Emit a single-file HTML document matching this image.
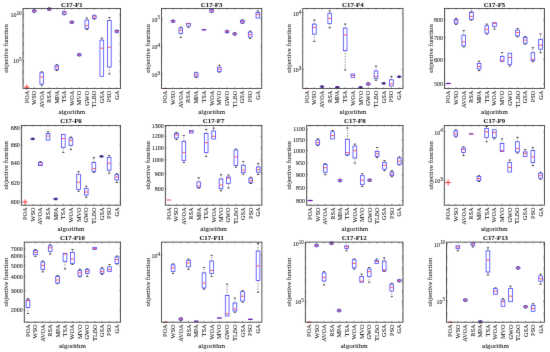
<!DOCTYPE html>
<html><head><meta charset="utf-8"><title>C17 boxplots</title>
<style>html,body{margin:0;padding:0;background:#fff}svg{display:block}text{font-family:"Liberation Serif",serif;fill:#1c1c1c;stroke:#1c1c1c;stroke-width:.08px}.t{font-weight:bold;font-size:6.8px;text-anchor:middle;fill:#111}.a{font-size:6.9px;text-anchor:middle}.o{font-size:6.7px;text-anchor:middle}.x{font-size:6.3px;text-anchor:end}.y{font-size:6px;text-anchor:end}.s{font-size:5.2px}.ax{fill:none;stroke:#2c2c2c;stroke-width:.8}.tk{stroke:#2c2c2c;stroke-width:.5}.mt{stroke:#363636;stroke-width:.4;opacity:.8}.md{stroke:#363636;stroke-width:.9;stroke-dasharray:.4 1.5;opacity:.7}.b{fill:#fff;stroke:#3a3aff;stroke-width:.75}.ws{stroke:#000;stroke-width:.55;opacity:.7}.m{stroke:#ff2020;stroke-width:.75}.w{stroke:#000;stroke-width:.65;stroke-dasharray:1.4 1.3;opacity:.7}.c{stroke:#000;stroke-width:.8;opacity:.9}.p{stroke:#ff2020;stroke-width:.85}</style></head><body>
<svg width="550" height="352" viewBox="0 0 550 352">
<defs><filter id="sf" x="0" y="0" width="550" height="352" filterUnits="userSpaceOnUse" color-interpolation-filters="sRGB"><feConvolveMatrix order="3" kernelMatrix="1 12 1 12 144 12 1 12 1" divisor="196" edgeMode="duplicate" preserveAlpha="false"/></filter></defs>
<g filter="url(#sf)">
<rect width="550" height="352" fill="#fff"/>
<g>
<text class="t" x="71.8" y="6.5">C17-F1</text>
<text class="a" x="71.8" y="114.2">algorithm</text>
<text class="o" transform="translate(8.1 48.5) rotate(-90)">objective function</text>
<path class="p" d="M24.25 87.1h5M26.75 84.6v5"/>
<path class="c" d="M33.16 9.7h2.2"/>
<path class="c" d="M33.16 12.3h2.2"/>
<rect class="b" x="32.41" y="10.2" width="3.7" height="1.6"/>
<path class="m" d="M32.71 11h3.1"/>
<path class="ws" d="M41.77 72.8V71.8"/>
<path class="c" d="M40.67 71.8h2.2"/>
<path class="ws" d="M41.77 84V85.3"/>
<path class="c" d="M40.67 85.3h2.2"/>
<rect class="b" x="39.92" y="72.8" width="3.7" height="11.2"/>
<path class="m" d="M40.22 77h3.1"/>
<path class="c" d="M48.18 7.8h2.2"/>
<path class="c" d="M48.18 10.4h2.2"/>
<rect class="b" x="47.43" y="8.3" width="3.7" height="1.6"/>
<path class="m" d="M47.73 9.1h3.1"/>
<path class="ws" d="M56.78 65.7V64.7"/>
<path class="c" d="M55.68 64.7h2.2"/>
<path class="ws" d="M56.78 69.5V70.5"/>
<path class="c" d="M55.68 70.5h2.2"/>
<rect class="b" x="54.93" y="65.7" width="3.7" height="3.8"/>
<path class="m" d="M55.23 67.2h3.1"/>
<path class="c" d="M63.19 11.3h2.2"/>
<path class="c" d="M63.19 14.8h2.2"/>
<rect class="b" x="62.44" y="11.8" width="3.7" height="2.5"/>
<path class="m" d="M62.74 13h3.1"/>
<path class="c" d="M70.7 21h2.2"/>
<path class="c" d="M70.7 23.6h2.2"/>
<rect class="b" x="69.95" y="21.5" width="3.7" height="1.6"/>
<path class="m" d="M70.25 22.3h3.1"/>
<path class="c" d="M78.21 53.4h2.2"/>
<path class="c" d="M78.21 56h2.2"/>
<rect class="b" x="77.46" y="53.9" width="3.7" height="1.6"/>
<path class="m" d="M77.76 54.7h3.1"/>
<path class="ws" d="M86.82 20.1V18"/>
<path class="c" d="M85.72 18h2.2"/>
<path class="ws" d="M86.82 28.6V29.6"/>
<path class="c" d="M85.72 29.6h2.2"/>
<rect class="b" x="84.97" y="20.1" width="3.7" height="8.5"/>
<path class="m" d="M85.27 25.8h3.1"/>
<path class="c" d="M93.22 15.2h2.2"/>
<path class="c" d="M93.22 19.2h2.2"/>
<rect class="b" x="92.47" y="15.8" width="3.7" height="2.8"/>
<path class="m" d="M92.77 17h3.1"/>
<path class="ws" d="M101.83 40.1V38.1"/>
<path class="c" d="M100.73 38.1h2.2"/>
<rect class="b" x="99.98" y="40.1" width="3.7" height="36.2"/>
<path class="m" d="M100.28 48.2h3.1"/>
<path class="ws" d="M109.34 20.6V17.6"/>
<path class="c" d="M108.24 17.6h2.2"/>
<path class="w" d="M109.34 67V74"/>
<path class="c" d="M108.24 74h2.2"/>
<rect class="b" x="107.49" y="20.6" width="3.7" height="46.4"/>
<path class="m" d="M107.79 47.2h3.1"/>
<path class="c" d="M115.75 30.1h2.2"/>
<path class="c" d="M115.75 32.7h2.2"/>
<rect class="b" x="115" y="30.6" width="3.7" height="1.6"/>
<path class="m" d="M115.3 31.4h3.1"/>
<rect class="ax" x="23" y="8.5" width="97.6" height="80"/>
<path class="tk" d="M26.75 88.5v-1.2M26.75 8.5v1.2M34.26 88.5v-1.2M34.26 8.5v1.2M41.77 88.5v-1.2M41.77 8.5v1.2M49.28 88.5v-1.2M49.28 8.5v1.2M56.78 88.5v-1.2M56.78 8.5v1.2M64.29 88.5v-1.2M64.29 8.5v1.2M71.8 88.5v-1.2M71.8 8.5v1.2M79.31 88.5v-1.2M79.31 8.5v1.2M86.82 88.5v-1.2M86.82 8.5v1.2M94.32 88.5v-1.2M94.32 8.5v1.2M101.83 88.5v-1.2M101.83 8.5v1.2M109.34 88.5v-1.2M109.34 8.5v1.2M116.85 88.5v-1.2M116.85 8.5v1.2M23 14h1.2M120.6 14h-1.2M23 60.4h1.2M120.6 60.4h-1.2"/>
<path class="mt" d="M23 11.21h.9M120.6 11.21h-.9M23 9.57h.9M120.6 9.57h-.9M23 20.49h.9M120.6 20.49h-.9M23 18.85h.9M120.6 18.85h-.9M23 17.69h.9M120.6 17.69h-.9M23 16.79h.9M120.6 16.79h-.9M23 16.06h.9M120.6 16.06h-.9M23 15.44h.9M120.6 15.44h-.9M23 14.9h.9M120.6 14.9h-.9M23 14.42h.9M120.6 14.42h-.9M23 29.77h.9M120.6 29.77h-.9M23 28.13h.9M120.6 28.13h-.9M23 26.97h.9M120.6 26.97h-.9M23 26.07h.9M120.6 26.07h-.9M23 25.34h.9M120.6 25.34h-.9M23 24.72h.9M120.6 24.72h-.9M23 24.18h.9M120.6 24.18h-.9M23 23.7h.9M120.6 23.7h-.9M23 39.05h.9M120.6 39.05h-.9M23 37.41h.9M120.6 37.41h-.9M23 36.25h.9M120.6 36.25h-.9M23 35.35h.9M120.6 35.35h-.9M23 34.62h.9M120.6 34.62h-.9M23 34h.9M120.6 34h-.9M23 33.46h.9M120.6 33.46h-.9M23 32.98h.9M120.6 32.98h-.9M23 48.33h.9M120.6 48.33h-.9M23 46.69h.9M120.6 46.69h-.9M23 45.53h.9M120.6 45.53h-.9M23 44.63h.9M120.6 44.63h-.9M23 43.9h.9M120.6 43.9h-.9M23 43.28h.9M120.6 43.28h-.9M23 42.74h.9M120.6 42.74h-.9M23 42.26h.9M120.6 42.26h-.9M23 57.61h.9M120.6 57.61h-.9M23 55.97h.9M120.6 55.97h-.9M23 54.81h.9M120.6 54.81h-.9M23 53.91h.9M120.6 53.91h-.9M23 53.18h.9M120.6 53.18h-.9M23 52.56h.9M120.6 52.56h-.9M23 52.02h.9M120.6 52.02h-.9M23 51.54h.9M120.6 51.54h-.9M23 66.89h.9M120.6 66.89h-.9M23 65.25h.9M120.6 65.25h-.9M23 64.09h.9M120.6 64.09h-.9M23 63.19h.9M120.6 63.19h-.9M23 62.46h.9M120.6 62.46h-.9M23 61.84h.9M120.6 61.84h-.9M23 61.3h.9M120.6 61.3h-.9M23 60.82h.9M120.6 60.82h-.9M23 76.17h.9M120.6 76.17h-.9M23 74.53h.9M120.6 74.53h-.9M23 73.37h.9M120.6 73.37h-.9M23 72.47h.9M120.6 72.47h-.9M23 71.74h.9M120.6 71.74h-.9M23 71.12h.9M120.6 71.12h-.9M23 70.58h.9M120.6 70.58h-.9M23 70.1h.9M120.6 70.1h-.9M23 85.45h.9M120.6 85.45h-.9M23 83.81h.9M120.6 83.81h-.9M23 82.65h.9M120.6 82.65h-.9M23 81.75h.9M120.6 81.75h-.9M23 81.02h.9M120.6 81.02h-.9M23 80.4h.9M120.6 80.4h-.9M23 79.86h.9M120.6 79.86h-.9M23 79.38h.9M120.6 79.38h-.9"/>
<text class="x" transform="translate(28.75 90.7) rotate(-90)">POA</text>
<text class="x" transform="translate(36.26 90.7) rotate(-90)">WSO</text>
<text class="x" transform="translate(43.77 90.7) rotate(-90)">AVOA</text>
<text class="x" transform="translate(51.28 90.7) rotate(-90)">RSA</text>
<text class="x" transform="translate(58.78 90.7) rotate(-90)">MPA</text>
<text class="x" transform="translate(66.29 90.7) rotate(-90)">TSA</text>
<text class="x" transform="translate(73.8 90.7) rotate(-90)">WOA</text>
<text class="x" transform="translate(81.31 90.7) rotate(-90)">MVO</text>
<text class="x" transform="translate(88.82 90.7) rotate(-90)">GWO</text>
<text class="x" transform="translate(96.32 90.7) rotate(-90)">TLBO</text>
<text class="x" transform="translate(103.83 90.7) rotate(-90)">GSA</text>
<text class="x" transform="translate(111.34 90.7) rotate(-90)">PSO</text>
<text class="x" transform="translate(118.85 90.7) rotate(-90)">GA</text>
<text class="y" x="21.6" y="17">10<tspan class="s" dy="-2.4">10</tspan></text>
<text class="y" x="21.6" y="63.4">10<tspan class="s" dy="-2.4">5</tspan></text>
</g>
<g>
<text class="t" x="211.62" y="6.5">C17-F3</text>
<text class="a" x="211.62" y="114.2">algorithm</text>
<text class="o" transform="translate(149.6 48.5) rotate(-90)">objective function</text>
<path d="M163.11 88.5h4.5" stroke="#ff2a2a" stroke-width=".9"/>
<path class="c" d="M171.97 20h2.2"/>
<path class="c" d="M171.97 22.6h2.2"/>
<rect class="b" x="171.22" y="20.5" width="3.7" height="1.6"/>
<path class="m" d="M171.52 21.3h3.1"/>
<path class="ws" d="M180.78 28.1V27.1"/>
<path class="c" d="M179.68 27.1h2.2"/>
<path class="w" d="M180.78 33.6V37.4"/>
<path class="c" d="M179.68 37.4h2.2"/>
<rect class="b" x="178.93" y="28.1" width="3.7" height="5.5"/>
<path class="m" d="M179.23 30.3h3.1"/>
<path class="ws" d="M188.49 26.1V27.3"/>
<path class="c" d="M187.39 27.3h2.2"/>
<rect class="b" x="186.64" y="23.3" width="3.7" height="2.8"/>
<path class="m" d="M186.94 23.8h3.1"/>
<path class="c" d="M195.1 72.3h2.2"/>
<path class="c" d="M195.1 77.4h2.2"/>
<rect class="b" x="194.35" y="72.9" width="3.7" height="3.9"/>
<path class="m" d="M194.65 75h3.1"/>
<path d="M201.66 29.8h4.5" stroke="#5a0fb4" stroke-width="1.3"/>
<path class="c" d="M210.53 9h2.2"/>
<path class="c" d="M210.53 12.5h2.2"/>
<rect class="b" x="209.78" y="9.5" width="3.7" height="2.5"/>
<path class="m" d="M210.08 10.8h3.1"/>
<path class="ws" d="M219.34 67.2V65.2"/>
<path class="c" d="M218.24 65.2h2.2"/>
<path class="ws" d="M219.34 71.5V72.2"/>
<path class="c" d="M218.24 72.2h2.2"/>
<rect class="b" x="217.49" y="67.2" width="3.7" height="4.3"/>
<path class="m" d="M217.79 69.2h3.1"/>
<path class="c" d="M225.95 30.3h2.2"/>
<path class="c" d="M225.95 32.9h2.2"/>
<rect class="b" x="225.2" y="30.8" width="3.7" height="1.6"/>
<path class="m" d="M225.5 31.6h3.1"/>
<path class="c" d="M233.66 32.6h2.2"/>
<path class="c" d="M233.66 35.2h2.2"/>
<rect class="b" x="232.91" y="33.1" width="3.7" height="1.6"/>
<path class="m" d="M233.21 33.9h3.1"/>
<path class="c" d="M241.37 19.8h2.2"/>
<path class="c" d="M241.37 23.4h2.2"/>
<rect class="b" x="240.62" y="20.3" width="3.7" height="2.6"/>
<path class="m" d="M240.92 21.6h3.1"/>
<path class="ws" d="M250.18 32.1V31.1"/>
<path class="c" d="M249.08 31.1h2.2"/>
<path class="ws" d="M250.18 37.1V38.6"/>
<path class="c" d="M249.08 38.6h2.2"/>
<rect class="b" x="248.33" y="32.1" width="3.7" height="5"/>
<path class="m" d="M248.63 34.6h3.1"/>
<path class="ws" d="M257.89 12.5V11"/>
<path class="c" d="M256.79 11h2.2"/>
<rect class="b" x="256.04" y="12.5" width="3.7" height="5.5"/>
<path class="m" d="M256.34 14.5h3.1"/>
<rect class="ax" x="161.5" y="8.5" width="100.25" height="80"/>
<path class="tk" d="M165.36 88.5v-1.2M165.36 8.5v1.2M173.07 88.5v-1.2M173.07 8.5v1.2M180.78 88.5v-1.2M180.78 8.5v1.2M188.49 88.5v-1.2M188.49 8.5v1.2M196.2 88.5v-1.2M196.2 8.5v1.2M203.91 88.5v-1.2M203.91 8.5v1.2M211.62 88.5v-1.2M211.62 8.5v1.2M219.34 88.5v-1.2M219.34 8.5v1.2M227.05 88.5v-1.2M227.05 8.5v1.2M234.76 88.5v-1.2M234.76 8.5v1.2M242.47 88.5v-1.2M242.47 8.5v1.2M250.18 88.5v-1.2M250.18 8.5v1.2M257.89 88.5v-1.2M257.89 8.5v1.2M161.5 18.8h1.2M261.75 18.8h-1.2M161.5 46.2h1.2M261.75 46.2h-1.2M161.5 74.1h1.2M261.75 74.1h-1.2"/>
<path class="mt" d="M161.5 10.48h.9M261.75 10.48h-.9M161.5 38.13h.9M261.75 38.13h-.9M161.5 33.26h.9M261.75 33.26h-.9M161.5 29.8h.9M261.75 29.8h-.9M161.5 27.12h.9M261.75 27.12h-.9M161.5 24.93h.9M261.75 24.93h-.9M161.5 23.08h.9M261.75 23.08h-.9M161.5 21.48h.9M261.75 21.48h-.9M161.5 20.07h.9M261.75 20.07h-.9M161.5 65.78h.9M261.75 65.78h-.9M161.5 60.91h.9M261.75 60.91h-.9M161.5 57.45h.9M261.75 57.45h-.9M161.5 54.77h.9M261.75 54.77h-.9M161.5 52.58h.9M261.75 52.58h-.9M161.5 50.73h.9M261.75 50.73h-.9M161.5 49.13h.9M261.75 49.13h-.9M161.5 47.72h.9M261.75 47.72h-.9M161.5 85.1h.9M261.75 85.1h-.9M161.5 82.42h.9M261.75 82.42h-.9M161.5 80.23h.9M261.75 80.23h-.9M161.5 78.38h.9M261.75 78.38h-.9M161.5 76.78h.9M261.75 76.78h-.9M161.5 75.37h.9M261.75 75.37h-.9"/>
<text class="x" transform="translate(167.36 90.7) rotate(-90)">POA</text>
<text class="x" transform="translate(175.07 90.7) rotate(-90)">WSO</text>
<text class="x" transform="translate(182.78 90.7) rotate(-90)">AVOA</text>
<text class="x" transform="translate(190.49 90.7) rotate(-90)">RSA</text>
<text class="x" transform="translate(198.2 90.7) rotate(-90)">MPA</text>
<text class="x" transform="translate(205.91 90.7) rotate(-90)">TSA</text>
<text class="x" transform="translate(213.62 90.7) rotate(-90)">WOA</text>
<text class="x" transform="translate(221.34 90.7) rotate(-90)">MVO</text>
<text class="x" transform="translate(229.05 90.7) rotate(-90)">GWO</text>
<text class="x" transform="translate(236.76 90.7) rotate(-90)">TLBO</text>
<text class="x" transform="translate(244.47 90.7) rotate(-90)">GSA</text>
<text class="x" transform="translate(252.18 90.7) rotate(-90)">PSO</text>
<text class="x" transform="translate(259.89 90.7) rotate(-90)">GA</text>
<text class="y" x="160.1" y="21.8">10<tspan class="s" dy="-2.4">5</tspan></text>
<text class="y" x="160.1" y="49.2">10<tspan class="s" dy="-2.4">4</tspan></text>
<text class="y" x="160.1" y="77.1">10<tspan class="s" dy="-2.4">3</tspan></text>
</g>
<g>
<text class="t" x="352.88" y="6.5">C17-F4</text>
<text class="a" x="352.88" y="114.2">algorithm</text>
<text class="o" transform="translate(290.9 48.5) rotate(-90)">objective function</text>
<path d="M304.36 88.5h4.5" stroke="#ff2a2a" stroke-width=".9"/>
<path class="w" d="M314.32 24.1V20"/>
<path class="c" d="M313.22 20h2.2"/>
<path class="w" d="M314.32 34.1V41.4"/>
<path class="c" d="M313.22 41.4h2.2"/>
<rect class="b" x="312.47" y="24.1" width="3.7" height="10"/>
<path class="m" d="M312.77 27.3h3.1"/>
<rect class="b" x="320.18" y="86.2" width="3.7" height=".8"/>
<path d="M320.58 86.6h2.9" stroke="#b01a70" stroke-width=".8"/>
<path class="c" d="M320.93 85.8h2.2M320.93 87.4h2.2"/>
<path class="ws" d="M329.74 13.3V11"/>
<path class="c" d="M328.64 11h2.2"/>
<path class="w" d="M329.74 23.6V27.8"/>
<path class="c" d="M328.64 27.8h2.2"/>
<rect class="b" x="327.89" y="13.3" width="3.7" height="10.3"/>
<path class="m" d="M328.19 18.3h3.1"/>
<rect class="b" x="335.6" y="86.9" width="3.7" height=".8"/>
<path d="M336 87.3h2.9" stroke="#b01a70" stroke-width=".8"/>
<path class="c" d="M336.35 86.5h2.2M336.35 88.1h2.2"/>
<path class="w" d="M345.16 28.1V24"/>
<path class="c" d="M344.06 24h2.2"/>
<path class="w" d="M345.16 50.7V70"/>
<path class="c" d="M344.06 70h2.2"/>
<rect class="b" x="343.31" y="28.1" width="3.7" height="22.6"/>
<path class="m" d="M343.61 34.9h3.1"/>
<rect class="b" x="351.02" y="74" width="3.7" height="3.3"/>
<path class="m" d="M351.32 75.5h3.1"/>
<rect class="b" x="358.74" y="87" width="3.7" height=".8"/>
<path d="M359.14 87.4h2.9" stroke="#b01a70" stroke-width=".8"/>
<path class="c" d="M359.49 86.6h2.2M359.49 88.2h2.2"/>
<path class="c" d="M367.2 82.7h2.2"/>
<path class="c" d="M367.2 85.3h2.2"/>
<rect class="b" x="366.45" y="83.2" width="3.7" height="1.6"/>
<path class="m" d="M366.75 84h3.1"/>
<path class="w" d="M376.01 71V66"/>
<path class="c" d="M374.91 66h2.2"/>
<path class="ws" d="M376.01 78.5V80.3"/>
<path class="c" d="M374.91 80.3h2.2"/>
<rect class="b" x="374.16" y="71" width="3.7" height="7.5"/>
<path class="m" d="M374.46 76.5h3.1"/>
<rect class="b" x="381.87" y="83" width="3.7" height=".8"/>
<path d="M382.27 83.4h2.9" stroke="#b01a70" stroke-width=".8"/>
<path class="c" d="M382.62 82.6h2.2M382.62 84.2h2.2"/>
<path class="ws" d="M391.43 79.8V76.5"/>
<path class="c" d="M390.33 76.5h2.2"/>
<rect class="b" x="389.58" y="79.8" width="3.7" height="6.2"/>
<path class="m" d="M389.88 83.8h3.1"/>
<rect class="b" x="397.29" y="76.3" width="3.7" height=".8"/>
<path d="M397.69 76.7h2.9" stroke="#b01a70" stroke-width=".8"/>
<path class="c" d="M398.04 75.9h2.2M398.04 77.5h2.2"/>
<rect class="ax" x="302.75" y="8.5" width="100.25" height="80"/>
<path class="tk" d="M306.61 88.5v-1.2M306.61 8.5v1.2M314.32 88.5v-1.2M314.32 8.5v1.2M322.03 88.5v-1.2M322.03 8.5v1.2M329.74 88.5v-1.2M329.74 8.5v1.2M337.45 88.5v-1.2M337.45 8.5v1.2M345.16 88.5v-1.2M345.16 8.5v1.2M352.88 88.5v-1.2M352.88 8.5v1.2M360.59 88.5v-1.2M360.59 8.5v1.2M368.3 88.5v-1.2M368.3 8.5v1.2M376.01 88.5v-1.2M376.01 8.5v1.2M383.72 88.5v-1.2M383.72 8.5v1.2M391.43 88.5v-1.2M391.43 8.5v1.2M399.14 88.5v-1.2M399.14 8.5v1.2M302.75 13.1h1.2M403 13.1h-1.2M302.75 69.4h1.2M403 69.4h-1.2"/>
<path class="mt" d="M302.75 52.45h.9M403 52.45h-.9M302.75 42.54h.9M403 42.54h-.9M302.75 35.5h.9M403 35.5h-.9M302.75 30.05h.9M403 30.05h-.9M302.75 25.59h.9M403 25.59h-.9M302.75 21.82h.9M403 21.82h-.9M302.75 18.56h.9M403 18.56h-.9M302.75 15.68h.9M403 15.68h-.9M302.75 86.35h.9M403 86.35h-.9M302.75 81.89h.9M403 81.89h-.9M302.75 78.12h.9M403 78.12h-.9M302.75 74.86h.9M403 74.86h-.9M302.75 71.98h.9M403 71.98h-.9"/>
<text class="x" transform="translate(308.61 90.7) rotate(-90)">POA</text>
<text class="x" transform="translate(316.32 90.7) rotate(-90)">WSO</text>
<text class="x" transform="translate(324.03 90.7) rotate(-90)">AVOA</text>
<text class="x" transform="translate(331.74 90.7) rotate(-90)">RSA</text>
<text class="x" transform="translate(339.45 90.7) rotate(-90)">MPA</text>
<text class="x" transform="translate(347.16 90.7) rotate(-90)">TSA</text>
<text class="x" transform="translate(354.88 90.7) rotate(-90)">WOA</text>
<text class="x" transform="translate(362.59 90.7) rotate(-90)">MVO</text>
<text class="x" transform="translate(370.3 90.7) rotate(-90)">GWO</text>
<text class="x" transform="translate(378.01 90.7) rotate(-90)">TLBO</text>
<text class="x" transform="translate(385.72 90.7) rotate(-90)">GSA</text>
<text class="x" transform="translate(393.43 90.7) rotate(-90)">PSO</text>
<text class="x" transform="translate(401.14 90.7) rotate(-90)">GA</text>
<text class="y" x="301.35" y="16.1">10<tspan class="s" dy="-2.4">4</tspan></text>
<text class="y" x="301.35" y="72.4">10<tspan class="s" dy="-2.4">3</tspan></text>
</g>
<g>
<text class="t" x="494.48" y="6.5">C17-F5</text>
<text class="a" x="494.48" y="114.2">algorithm</text>
<text class="o" transform="translate(432.5 48.5) rotate(-90)">objective function</text>
<path d="M446.14 83.5h4.5" stroke="#5a0fb4" stroke-width="1.3"/>
<path class="ws" d="M456.07 19.6V18.3"/>
<path class="c" d="M454.97 18.3h2.2"/>
<path class="ws" d="M456.07 23.3V24.6"/>
<path class="c" d="M454.97 24.6h2.2"/>
<rect class="b" x="454.22" y="19.6" width="3.7" height="3.7"/>
<path class="m" d="M454.52 21.3h3.1"/>
<path class="w" d="M463.75 35.1V30.6"/>
<path class="c" d="M462.65 30.6h2.2"/>
<path class="ws" d="M463.75 45.9V46.9"/>
<path class="c" d="M462.65 46.9h2.2"/>
<rect class="b" x="461.9" y="35.1" width="3.7" height="10.8"/>
<path class="m" d="M462.2 41.9h3.1"/>
<path class="ws" d="M471.43 12.6V11.3"/>
<path class="c" d="M470.33 11.3h2.2"/>
<path class="ws" d="M471.43 19.3V20.2"/>
<path class="c" d="M470.33 20.2h2.2"/>
<rect class="b" x="469.58" y="12.6" width="3.7" height="6.7"/>
<path class="m" d="M469.88 16.4h3.1"/>
<path class="ws" d="M479.11 63.5V61.2"/>
<path class="c" d="M478.01 61.2h2.2"/>
<path class="ws" d="M479.11 69V70.7"/>
<path class="c" d="M478.01 70.7h2.2"/>
<rect class="b" x="477.26" y="63.5" width="3.7" height="5.5"/>
<path class="m" d="M477.56 66.5h3.1"/>
<path class="ws" d="M486.79 25.8V24.1"/>
<path class="c" d="M485.69 24.1h2.2"/>
<path class="ws" d="M486.79 33.1V34.1"/>
<path class="c" d="M485.69 34.1h2.2"/>
<rect class="b" x="484.94" y="25.8" width="3.7" height="7.3"/>
<path class="m" d="M485.24 29.4h3.1"/>
<path class="ws" d="M494.48 26.3V29.1"/>
<path class="c" d="M493.38 29.1h2.2"/>
<rect class="b" x="492.62" y="22.8" width="3.7" height="3.5"/>
<path class="m" d="M492.93 23.3h3.1"/>
<path class="w" d="M502.16 56.4V52.4"/>
<path class="c" d="M501.06 52.4h2.2"/>
<rect class="b" x="500.31" y="56.4" width="3.7" height="5.1"/>
<path class="m" d="M500.61 60.2h3.1"/>
<path class="ws" d="M509.84 64.5V66"/>
<path class="c" d="M508.74 66h2.2"/>
<rect class="b" x="507.99" y="53.2" width="3.7" height="11.3"/>
<path class="m" d="M508.29 57.5h3.1"/>
<path class="ws" d="M517.52 30.1V28.6"/>
<path class="c" d="M516.42 28.6h2.2"/>
<path class="ws" d="M517.52 35.9V36.9"/>
<path class="c" d="M516.42 36.9h2.2"/>
<rect class="b" x="515.67" y="30.1" width="3.7" height="5.8"/>
<path class="m" d="M515.97 32.6h3.1"/>
<path class="ws" d="M525.2 37.6V36.4"/>
<path class="c" d="M524.1 36.4h2.2"/>
<path class="ws" d="M525.2 43.2V44.2"/>
<path class="c" d="M524.1 44.2h2.2"/>
<rect class="b" x="523.35" y="37.6" width="3.7" height="5.6"/>
<path class="m" d="M523.65 40.1h3.1"/>
<path class="w" d="M532.88 52.7V47.7"/>
<path class="c" d="M531.78 47.7h2.2"/>
<path class="ws" d="M532.88 60.7V61.7"/>
<path class="c" d="M531.78 61.7h2.2"/>
<rect class="b" x="531.03" y="52.7" width="3.7" height="8"/>
<path class="m" d="M531.33 59.2h3.1"/>
<path class="w" d="M540.56 39.4V33.9"/>
<path class="c" d="M539.46 33.9h2.2"/>
<path class="ws" d="M540.56 49.2V52.7"/>
<path class="c" d="M539.46 52.7h2.2"/>
<rect class="b" x="538.71" y="39.4" width="3.7" height="9.8"/>
<path class="m" d="M539.01 45.2h3.1"/>
<rect class="ax" x="444.55" y="8.5" width="99.85" height="80"/>
<path class="tk" d="M448.39 88.5v-1.2M448.39 8.5v1.2M456.07 88.5v-1.2M456.07 8.5v1.2M463.75 88.5v-1.2M463.75 8.5v1.2M471.43 88.5v-1.2M471.43 8.5v1.2M479.11 88.5v-1.2M479.11 8.5v1.2M486.79 88.5v-1.2M486.79 8.5v1.2M494.48 88.5v-1.2M494.48 8.5v1.2M502.16 88.5v-1.2M502.16 8.5v1.2M509.84 88.5v-1.2M509.84 8.5v1.2M517.52 88.5v-1.2M517.52 8.5v1.2M525.2 88.5v-1.2M525.2 8.5v1.2M532.88 88.5v-1.2M532.88 8.5v1.2M540.56 88.5v-1.2M540.56 8.5v1.2M444.55 19.7h1.2M544.4 19.7h-1.2M444.55 38.1h1.2M544.4 38.1h-1.2M444.55 59.5h1.2M544.4 59.5h-1.2M444.55 84h1.2M544.4 84h-1.2"/>
<path class="md" d="M445.15 9.5V88M543.8 9.5V88"/>
<text class="x" transform="translate(450.39 90.7) rotate(-90)">POA</text>
<text class="x" transform="translate(458.07 90.7) rotate(-90)">WSO</text>
<text class="x" transform="translate(465.75 90.7) rotate(-90)">AVOA</text>
<text class="x" transform="translate(473.43 90.7) rotate(-90)">RSA</text>
<text class="x" transform="translate(481.11 90.7) rotate(-90)">MPA</text>
<text class="x" transform="translate(488.79 90.7) rotate(-90)">TSA</text>
<text class="x" transform="translate(496.48 90.7) rotate(-90)">WOA</text>
<text class="x" transform="translate(504.16 90.7) rotate(-90)">MVO</text>
<text class="x" transform="translate(511.84 90.7) rotate(-90)">GWO</text>
<text class="x" transform="translate(519.52 90.7) rotate(-90)">TLBO</text>
<text class="x" transform="translate(527.2 90.7) rotate(-90)">GSA</text>
<text class="x" transform="translate(534.88 90.7) rotate(-90)">PSO</text>
<text class="x" transform="translate(542.56 90.7) rotate(-90)">GA</text>
<text class="y" x="442.95" y="21.7">800</text>
<text class="y" x="442.95" y="40.1">700</text>
<text class="y" x="442.95" y="61.5">600</text>
<text class="y" x="442.95" y="86">500</text>
</g>
<g>
<text class="t" x="70.95" y="123.45">C17-F6</text>
<text class="a" x="70.95" y="230.9">algorithm</text>
<text class="o" transform="translate(7.9 165.32) rotate(-90)">objective function</text>
<path class="p" d="M22.62 201.9h5M25.12 199.4v5"/>
<rect class="b" x="30.91" y="138.5" width="3.7" height=".8"/>
<path d="M31.31 138.9h2.9" stroke="#b01a70" stroke-width=".8"/>
<path class="c" d="M31.66 138.1h2.2M31.66 139.7h2.2"/>
<path class="ws" d="M40.4 162.4V161.4"/>
<path class="c" d="M39.3 161.4h2.2"/>
<rect class="b" x="38.55" y="162.4" width="3.7" height="3.3"/>
<path class="m" d="M38.85 164.7h3.1"/>
<path class="ws" d="M48.03 133.6V131.8"/>
<path class="c" d="M46.93 131.8h2.2"/>
<rect class="b" x="46.18" y="133.6" width="3.7" height="6.4"/>
<path class="m" d="M46.48 136h3.1"/>
<rect class="b" x="53.82" y="198.6" width="3.7" height=".8"/>
<path d="M54.22 199h2.9" stroke="#b01a70" stroke-width=".8"/>
<path class="c" d="M54.57 198.2h2.2M54.57 199.8h2.2"/>
<path class="w" d="M63.31 147.6V152.4"/>
<path class="c" d="M62.21 152.4h2.2"/>
<rect class="b" x="61.46" y="134.6" width="3.7" height="13"/>
<path class="m" d="M61.76 138.6h3.1"/>
<path class="ws" d="M70.95 138V137"/>
<path class="c" d="M69.85 137h2.2"/>
<path class="w" d="M70.95 145.3V149.4"/>
<path class="c" d="M69.85 149.4h2.2"/>
<rect class="b" x="69.1" y="138" width="3.7" height="7.3"/>
<path class="m" d="M69.4 140.3h3.1"/>
<path class="ws" d="M78.59 174.2V171.4"/>
<path class="c" d="M77.49 171.4h2.2"/>
<path class="ws" d="M78.59 189.5V191.3"/>
<path class="c" d="M77.49 191.3h2.2"/>
<rect class="b" x="76.74" y="174.2" width="3.7" height="15.3"/>
<path class="m" d="M77.04 182.2h3.1"/>
<path class="ws" d="M86.23 188.7V186.2"/>
<path class="c" d="M85.13 186.2h2.2"/>
<path class="ws" d="M86.23 195V197.3"/>
<path class="c" d="M85.13 197.3h2.2"/>
<rect class="b" x="84.38" y="188.7" width="3.7" height="6.3"/>
<path class="m" d="M84.68 192h3.1"/>
<path class="w" d="M93.87 162.4V157.6"/>
<path class="c" d="M92.77 157.6h2.2"/>
<path class="ws" d="M93.87 171.4V172.4"/>
<path class="c" d="M92.77 172.4h2.2"/>
<rect class="b" x="92.02" y="162.4" width="3.7" height="9"/>
<path class="m" d="M92.32 168.7h3.1"/>
<rect class="b" x="99.65" y="156" width="3.7" height=".8"/>
<path d="M100.05 156.4h2.9" stroke="#b01a70" stroke-width=".8"/>
<path class="c" d="M100.4 155.6h2.2M100.4 157.2h2.2"/>
<path class="ws" d="M109.14 157.4V155.6"/>
<path class="c" d="M108.04 155.6h2.2"/>
<path class="ws" d="M109.14 170.2V173.2"/>
<path class="c" d="M108.04 173.2h2.2"/>
<rect class="b" x="107.29" y="157.4" width="3.7" height="12.8"/>
<path class="m" d="M107.59 163.2h3.1"/>
<path class="ws" d="M116.78 174.7V173.7"/>
<path class="c" d="M115.68 173.7h2.2"/>
<path class="ws" d="M116.78 180V182.5"/>
<path class="c" d="M115.68 182.5h2.2"/>
<rect class="b" x="114.93" y="174.7" width="3.7" height="5.3"/>
<path class="m" d="M115.23 177h3.1"/>
<rect class="ax" x="21.3" y="125.45" width="99.3" height="79.75"/>
<path class="tk" d="M25.12 205.2v-1.2M25.12 125.45v1.2M32.76 205.2v-1.2M32.76 125.45v1.2M40.4 205.2v-1.2M40.4 125.45v1.2M48.03 205.2v-1.2M48.03 125.45v1.2M55.67 205.2v-1.2M55.67 125.45v1.2M63.31 205.2v-1.2M63.31 125.45v1.2M70.95 205.2v-1.2M70.95 125.45v1.2M78.59 205.2v-1.2M78.59 125.45v1.2M86.23 205.2v-1.2M86.23 125.45v1.2M93.87 205.2v-1.2M93.87 125.45v1.2M101.5 205.2v-1.2M101.5 125.45v1.2M109.14 205.2v-1.2M109.14 125.45v1.2M116.78 205.2v-1.2M116.78 125.45v1.2M21.3 127.5h1.2M120.6 127.5h-1.2M21.3 145h1.2M120.6 145h-1.2M21.3 163.4h1.2M120.6 163.4h-1.2M21.3 182.5h1.2M120.6 182.5h-1.2M21.3 201.9h1.2M120.6 201.9h-1.2"/>
<path class="md" d="M21.9 126.45V204.7M120 126.45V204.7"/>
<text class="x" transform="translate(27.12 207.4) rotate(-90)">POA</text>
<text class="x" transform="translate(34.76 207.4) rotate(-90)">WSO</text>
<text class="x" transform="translate(42.4 207.4) rotate(-90)">AVOA</text>
<text class="x" transform="translate(50.03 207.4) rotate(-90)">RSA</text>
<text class="x" transform="translate(57.67 207.4) rotate(-90)">MPA</text>
<text class="x" transform="translate(65.31 207.4) rotate(-90)">TSA</text>
<text class="x" transform="translate(72.95 207.4) rotate(-90)">WOA</text>
<text class="x" transform="translate(80.59 207.4) rotate(-90)">MVO</text>
<text class="x" transform="translate(88.23 207.4) rotate(-90)">GWO</text>
<text class="x" transform="translate(95.87 207.4) rotate(-90)">TLBO</text>
<text class="x" transform="translate(103.5 207.4) rotate(-90)">GSA</text>
<text class="x" transform="translate(111.14 207.4) rotate(-90)">PSO</text>
<text class="x" transform="translate(118.78 207.4) rotate(-90)">GA</text>
<text class="y" x="19.7" y="129.5">680</text>
<text class="y" x="19.7" y="147">660</text>
<text class="y" x="19.7" y="165.4">640</text>
<text class="y" x="19.7" y="184.5">620</text>
<text class="y" x="19.7" y="203.9">600</text>
</g>
<g>
<text class="t" x="213.6" y="123.45">C17-F7</text>
<text class="a" x="213.6" y="230.9">algorithm</text>
<text class="o" transform="translate(149.8 165.32) rotate(-90)">objective function</text>
<path d="M166.77 200h4.5" stroke="#ff2a2a" stroke-width=".9"/>
<path class="ws" d="M176.45 133.6V132.3"/>
<path class="c" d="M175.35 132.3h2.2"/>
<path class="ws" d="M176.45 138V139.6"/>
<path class="c" d="M175.35 139.6h2.2"/>
<rect class="b" x="174.6" y="133.6" width="3.7" height="4.4"/>
<path class="m" d="M174.9 135h3.1"/>
<path class="w" d="M183.88 141.3V135.6"/>
<path class="c" d="M182.78 135.6h2.2"/>
<path class="ws" d="M183.88 160.6V162.4"/>
<path class="c" d="M182.78 162.4h2.2"/>
<rect class="b" x="182.03" y="141.3" width="3.7" height="19.3"/>
<path class="m" d="M182.33 152.4h3.1"/>
<rect class="b" x="189.46" y="130.5" width="3.7" height="2.5"/>
<path class="m" d="M189.76 131.8h3.1"/>
<path class="w" d="M198.74 182V177.7"/>
<path class="c" d="M197.64 177.7h2.2"/>
<path class="c" d="M197.64 188.2h2.2"/>
<rect class="b" x="196.89" y="182" width="3.7" height="5.5"/>
<path class="m" d="M197.19 186h3.1"/>
<path class="w" d="M206.17 133.6V129.3"/>
<path class="c" d="M205.07 129.3h2.2"/>
<path class="w" d="M206.17 152.4V156.4"/>
<path class="c" d="M205.07 156.4h2.2"/>
<rect class="b" x="204.32" y="133.6" width="3.7" height="18.8"/>
<path class="m" d="M204.62 142.6h3.1"/>
<path class="ws" d="M213.6 131V128"/>
<path class="c" d="M212.5 128h2.2"/>
<rect class="b" x="211.75" y="131" width="3.7" height="8"/>
<path class="m" d="M212.05 136.3h3.1"/>
<path class="w" d="M221.03 179V174.7"/>
<path class="c" d="M219.93 174.7h2.2"/>
<path class="ws" d="M221.03 188.7V190.8"/>
<path class="c" d="M219.93 190.8h2.2"/>
<rect class="b" x="219.18" y="179" width="3.7" height="9.7"/>
<path class="m" d="M219.48 185h3.1"/>
<path class="ws" d="M228.46 177V175"/>
<path class="c" d="M227.36 175h2.2"/>
<path class="w" d="M228.46 183.5V188"/>
<path class="c" d="M227.36 188h2.2"/>
<rect class="b" x="226.61" y="177" width="3.7" height="6.5"/>
<path class="m" d="M226.91 178.2h3.1"/>
<path class="ws" d="M235.89 149.9V149.1"/>
<path class="c" d="M234.79 149.1h2.2"/>
<path class="ws" d="M235.89 165.4V167.2"/>
<path class="c" d="M234.79 167.2h2.2"/>
<rect class="b" x="234.04" y="149.9" width="3.7" height="15.5"/>
<path class="m" d="M234.34 156.9h3.1"/>
<path class="w" d="M243.32 165.2V161.4"/>
<path class="c" d="M242.22 161.4h2.2"/>
<path class="ws" d="M243.32 172.7V174.2"/>
<path class="c" d="M242.22 174.2h2.2"/>
<rect class="b" x="241.47" y="165.2" width="3.7" height="7.5"/>
<path class="m" d="M241.77 170h3.1"/>
<path class="ws" d="M250.75 178.2V177.2"/>
<path class="c" d="M249.65 177.2h2.2"/>
<path class="ws" d="M250.75 182.5V183.5"/>
<path class="c" d="M249.65 183.5h2.2"/>
<rect class="b" x="248.9" y="178.2" width="3.7" height="4.3"/>
<path class="m" d="M249.2 180.7h3.1"/>
<path class="ws" d="M258.18 167V163.4"/>
<path class="c" d="M257.08 163.4h2.2"/>
<path class="ws" d="M258.18 172.2V174.5"/>
<path class="c" d="M257.08 174.5h2.2"/>
<rect class="b" x="256.33" y="167" width="3.7" height="5.2"/>
<path class="m" d="M256.63 169.7h3.1"/>
<rect class="ax" x="165.3" y="125.45" width="96.6" height="79.75"/>
<path class="tk" d="M169.02 205.2v-1.2M169.02 125.45v1.2M176.45 205.2v-1.2M176.45 125.45v1.2M183.88 205.2v-1.2M183.88 125.45v1.2M191.31 205.2v-1.2M191.31 125.45v1.2M198.74 205.2v-1.2M198.74 125.45v1.2M206.17 205.2v-1.2M206.17 125.45v1.2M213.6 205.2v-1.2M213.6 125.45v1.2M221.03 205.2v-1.2M221.03 125.45v1.2M228.46 205.2v-1.2M228.46 125.45v1.2M235.89 205.2v-1.2M235.89 125.45v1.2M243.32 205.2v-1.2M243.32 125.45v1.2M250.75 205.2v-1.2M250.75 125.45v1.2M258.18 205.2v-1.2M258.18 125.45v1.2M165.3 126.3h1.2M261.9 126.3h-1.2M165.3 136.3h1.2M261.9 136.3h-1.2M165.3 148.1h1.2M261.9 148.1h-1.2M165.3 159.9h1.2M261.9 159.9h-1.2M165.3 173.6h1.2M261.9 173.6h-1.2M165.3 189h1.2M261.9 189h-1.2"/>
<path class="md" d="M165.9 126.45V204.7M261.3 126.45V204.7"/>
<text class="x" transform="translate(171.02 207.4) rotate(-90)">POA</text>
<text class="x" transform="translate(178.45 207.4) rotate(-90)">WSO</text>
<text class="x" transform="translate(185.88 207.4) rotate(-90)">AVOA</text>
<text class="x" transform="translate(193.31 207.4) rotate(-90)">RSA</text>
<text class="x" transform="translate(200.74 207.4) rotate(-90)">MPA</text>
<text class="x" transform="translate(208.17 207.4) rotate(-90)">TSA</text>
<text class="x" transform="translate(215.6 207.4) rotate(-90)">WOA</text>
<text class="x" transform="translate(223.03 207.4) rotate(-90)">MVO</text>
<text class="x" transform="translate(230.46 207.4) rotate(-90)">GWO</text>
<text class="x" transform="translate(237.89 207.4) rotate(-90)">TLBO</text>
<text class="x" transform="translate(245.32 207.4) rotate(-90)">GSA</text>
<text class="x" transform="translate(252.75 207.4) rotate(-90)">PSO</text>
<text class="x" transform="translate(260.18 207.4) rotate(-90)">GA</text>
<text class="y" x="163.7" y="128.3">1300</text>
<text class="y" x="163.7" y="138.3">1200</text>
<text class="y" x="163.7" y="150.1">1100</text>
<text class="y" x="163.7" y="161.9">1000</text>
<text class="y" x="163.7" y="175.6">900</text>
<text class="y" x="163.7" y="191">800</text>
</g>
<g>
<text class="t" x="354.85" y="123.45">C17-F8</text>
<text class="a" x="354.85" y="230.9">algorithm</text>
<text class="o" transform="translate(290.7 165.32) rotate(-90)">objective function</text>
<path d="M308.15 200.5h4.5" stroke="#5a0fb4" stroke-width="1.3"/>
<path class="ws" d="M317.81 140V138.8"/>
<path class="c" d="M316.71 138.8h2.2"/>
<path class="ws" d="M317.81 144.8V145.6"/>
<path class="c" d="M316.71 145.6h2.2"/>
<rect class="b" x="315.96" y="140" width="3.7" height="4.8"/>
<path class="m" d="M316.26 142.6h3.1"/>
<path class="ws" d="M325.22 164.4V163.4"/>
<path class="c" d="M324.12 163.4h2.2"/>
<path class="ws" d="M325.22 172.2V174.7"/>
<path class="c" d="M324.12 174.7h2.2"/>
<rect class="b" x="323.37" y="164.4" width="3.7" height="7.8"/>
<path class="m" d="M323.67 167.7h3.1"/>
<path class="ws" d="M332.63 131.8V130.5"/>
<path class="c" d="M331.53 130.5h2.2"/>
<rect class="b" x="330.78" y="131.8" width="3.7" height="7.2"/>
<path class="m" d="M331.08 135.6h3.1"/>
<path class="c" d="M338.93 179.2h2.2"/>
<path class="c" d="M338.93 181.8h2.2"/>
<rect class="b" x="338.18" y="179.7" width="3.7" height="1.6"/>
<path class="m" d="M338.48 180.5h3.1"/>
<path class="w" d="M347.44 139.3V128"/>
<path class="c" d="M346.34 128h2.2"/>
<path class="c" d="M346.34 155.6h2.2"/>
<rect class="b" x="345.59" y="139.3" width="3.7" height="15.6"/>
<path class="m" d="M345.89 152.6h3.1"/>
<path class="ws" d="M354.85 146V144.1"/>
<path class="c" d="M353.75 144.1h2.2"/>
<path class="w" d="M354.85 158V163.2"/>
<path class="c" d="M353.75 163.2h2.2"/>
<rect class="b" x="353" y="146" width="3.7" height="12"/>
<path class="m" d="M353.3 150.6h3.1"/>
<path class="ws" d="M362.26 175.7V173.7"/>
<path class="c" d="M361.16 173.7h2.2"/>
<path class="ws" d="M362.26 184.5V186.5"/>
<path class="c" d="M361.16 186.5h2.2"/>
<rect class="b" x="360.41" y="175.7" width="3.7" height="8.8"/>
<path class="m" d="M360.71 180.2h3.1"/>
<path class="c" d="M368.57 178.9h2.2"/>
<path class="c" d="M368.57 181.5h2.2"/>
<rect class="b" x="367.82" y="179.4" width="3.7" height="1.6"/>
<path class="m" d="M368.12 180.2h3.1"/>
<path class="w" d="M377.07 151.4V147.4"/>
<path class="c" d="M375.97 147.4h2.2"/>
<path class="ws" d="M377.07 156.4V157.6"/>
<path class="c" d="M375.97 157.6h2.2"/>
<rect class="b" x="375.22" y="151.4" width="3.7" height="5"/>
<path class="m" d="M375.52 153.9h3.1"/>
<path class="ws" d="M384.48 162.4V160.6"/>
<path class="c" d="M383.38 160.6h2.2"/>
<path class="ws" d="M384.48 169.2V170.7"/>
<path class="c" d="M383.38 170.7h2.2"/>
<rect class="b" x="382.63" y="162.4" width="3.7" height="6.8"/>
<path class="m" d="M382.93 165.2h3.1"/>
<path class="ws" d="M391.89 172V170.7"/>
<path class="c" d="M390.79 170.7h2.2"/>
<path class="ws" d="M391.89 175.7V176.7"/>
<path class="c" d="M390.79 176.7h2.2"/>
<rect class="b" x="390.04" y="172" width="3.7" height="3.7"/>
<path class="m" d="M390.34 174h3.1"/>
<path class="ws" d="M399.3 158V156.9"/>
<path class="c" d="M398.2 156.9h2.2"/>
<path class="ws" d="M399.3 164.2V164.9"/>
<path class="c" d="M398.2 164.9h2.2"/>
<rect class="b" x="397.45" y="158" width="3.7" height="6.2"/>
<path class="m" d="M397.75 161.2h3.1"/>
<rect class="ax" x="306.7" y="125.45" width="96.3" height="79.75"/>
<path class="tk" d="M310.4 205.2v-1.2M310.4 125.45v1.2M317.81 205.2v-1.2M317.81 125.45v1.2M325.22 205.2v-1.2M325.22 125.45v1.2M332.63 205.2v-1.2M332.63 125.45v1.2M340.03 205.2v-1.2M340.03 125.45v1.2M347.44 205.2v-1.2M347.44 125.45v1.2M354.85 205.2v-1.2M354.85 125.45v1.2M362.26 205.2v-1.2M362.26 125.45v1.2M369.67 205.2v-1.2M369.67 125.45v1.2M377.07 205.2v-1.2M377.07 125.45v1.2M384.48 205.2v-1.2M384.48 125.45v1.2M391.89 205.2v-1.2M391.89 125.45v1.2M399.3 205.2v-1.2M399.3 125.45v1.2M306.7 129.4h1.2M403 129.4h-1.2M306.7 139.8h1.2M403 139.8h-1.2M306.7 150.6h1.2M403 150.6h-1.2M306.7 162.7h1.2M403 162.7h-1.2M306.7 174.7h1.2M403 174.7h-1.2M306.7 187.5h1.2M403 187.5h-1.2M306.7 200.5h1.2M403 200.5h-1.2"/>
<path class="md" d="M307.3 126.45V204.7M402.4 126.45V204.7"/>
<text class="x" transform="translate(312.4 207.4) rotate(-90)">POA</text>
<text class="x" transform="translate(319.81 207.4) rotate(-90)">WSO</text>
<text class="x" transform="translate(327.22 207.4) rotate(-90)">AVOA</text>
<text class="x" transform="translate(334.63 207.4) rotate(-90)">RSA</text>
<text class="x" transform="translate(342.03 207.4) rotate(-90)">MPA</text>
<text class="x" transform="translate(349.44 207.4) rotate(-90)">TSA</text>
<text class="x" transform="translate(356.85 207.4) rotate(-90)">WOA</text>
<text class="x" transform="translate(364.26 207.4) rotate(-90)">MVO</text>
<text class="x" transform="translate(371.67 207.4) rotate(-90)">GWO</text>
<text class="x" transform="translate(379.07 207.4) rotate(-90)">TLBO</text>
<text class="x" transform="translate(386.48 207.4) rotate(-90)">GSA</text>
<text class="x" transform="translate(393.89 207.4) rotate(-90)">PSO</text>
<text class="x" transform="translate(401.3 207.4) rotate(-90)">GA</text>
<text class="y" x="305.1" y="131.4">1100</text>
<text class="y" x="305.1" y="141.8">1050</text>
<text class="y" x="305.1" y="152.6">1000</text>
<text class="y" x="305.1" y="164.7">950</text>
<text class="y" x="305.1" y="176.7">900</text>
<text class="y" x="305.1" y="189.5">850</text>
<text class="y" x="305.1" y="202.5">800</text>
</g>
<g>
<text class="t" x="494.32" y="123.45">C17-F9</text>
<text class="a" x="494.32" y="230.9">algorithm</text>
<text class="o" transform="translate(432.5 165.32) rotate(-90)">objective function</text>
<path class="p" d="M445.1 182.5h6M448.1 179.5v6"/>
<path class="ws" d="M455.81 131V129.8"/>
<path class="c" d="M454.71 129.8h2.2"/>
<path class="ws" d="M455.81 136V137"/>
<path class="c" d="M454.71 137h2.2"/>
<rect class="b" x="453.96" y="131" width="3.7" height="5"/>
<path class="m" d="M454.26 133.6h3.1"/>
<path class="ws" d="M463.51 148V146.9"/>
<path class="c" d="M462.41 146.9h2.2"/>
<path class="ws" d="M463.51 152.4V155.6"/>
<path class="c" d="M462.41 155.6h2.2"/>
<rect class="b" x="461.66" y="148" width="3.7" height="4.4"/>
<path class="m" d="M461.96 149.6h3.1"/>
<path d="M468.96 133.9h4.5" stroke="#8a1aa0" stroke-width="1.3"/>
<path class="ws" d="M478.92 176.5V175.7"/>
<path class="c" d="M477.82 175.7h2.2"/>
<path class="ws" d="M478.92 180.7V181.5"/>
<path class="c" d="M477.82 181.5h2.2"/>
<rect class="b" x="477.07" y="176.5" width="3.7" height="4.2"/>
<path class="m" d="M477.37 178.5h3.1"/>
<path class="ws" d="M486.62 128.5V126.5"/>
<path class="c" d="M485.52 126.5h2.2"/>
<path class="w" d="M486.62 137.6V141.8"/>
<path class="c" d="M485.52 141.8h2.2"/>
<rect class="b" x="484.77" y="128.5" width="3.7" height="9.1"/>
<path class="m" d="M485.07 131.8h3.1"/>
<path class="ws" d="M494.32 137.6V138.8"/>
<path class="c" d="M493.22 138.8h2.2"/>
<rect class="b" x="492.47" y="129.8" width="3.7" height="7.8"/>
<path class="m" d="M492.77 132.6h3.1"/>
<path class="w" d="M502.03 143.6V138.8"/>
<path class="c" d="M500.93 138.8h2.2"/>
<rect class="b" x="500.18" y="143.6" width="3.7" height="8"/>
<path class="m" d="M500.48 150.6h3.1"/>
<path class="ws" d="M509.73 162.4V160"/>
<path class="c" d="M508.63 160h2.2"/>
<rect class="b" x="507.88" y="162.4" width="3.7" height="9.6"/>
<path class="m" d="M508.18 167.4h3.1"/>
<path class="w" d="M517.44 141.8V137.3"/>
<path class="c" d="M516.34 137.3h2.2"/>
<path class="ws" d="M517.44 152V153.1"/>
<path class="c" d="M516.34 153.1h2.2"/>
<rect class="b" x="515.59" y="141.8" width="3.7" height="10.2"/>
<path class="m" d="M515.89 148.6h3.1"/>
<path class="ws" d="M525.14 151.9V149.4"/>
<path class="c" d="M524.04 149.4h2.2"/>
<rect class="b" x="523.29" y="151.9" width="3.7" height="4.5"/>
<path class="m" d="M523.59 153.6h3.1"/>
<path class="ws" d="M532.84 150.6V147.4"/>
<path class="c" d="M531.74 147.4h2.2"/>
<path class="ws" d="M532.84 162.4V165.7"/>
<path class="c" d="M531.74 165.7h2.2"/>
<rect class="b" x="530.99" y="150.6" width="3.7" height="11.8"/>
<path class="m" d="M531.29 156.9h3.1"/>
<path class="ws" d="M540.55 173.2V172.2"/>
<path class="c" d="M539.45 172.2h2.2"/>
<path class="ws" d="M540.55 178.2V179.2"/>
<path class="c" d="M539.45 179.2h2.2"/>
<rect class="b" x="538.7" y="173.2" width="3.7" height="5"/>
<path class="m" d="M539 175.7h3.1"/>
<rect class="ax" x="444.25" y="125.45" width="100.15" height="79.75"/>
<path class="tk" d="M448.1 205.2v-1.2M448.1 125.45v1.2M455.81 205.2v-1.2M455.81 125.45v1.2M463.51 205.2v-1.2M463.51 125.45v1.2M471.21 205.2v-1.2M471.21 125.45v1.2M478.92 205.2v-1.2M478.92 125.45v1.2M486.62 205.2v-1.2M486.62 125.45v1.2M494.32 205.2v-1.2M494.32 125.45v1.2M502.03 205.2v-1.2M502.03 125.45v1.2M509.73 205.2v-1.2M509.73 125.45v1.2M517.44 205.2v-1.2M517.44 125.45v1.2M525.14 205.2v-1.2M525.14 125.45v1.2M532.84 205.2v-1.2M532.84 125.45v1.2M540.55 205.2v-1.2M540.55 125.45v1.2M444.25 131.8h1.2M544.4 131.8h-1.2M444.25 179.9h1.2M544.4 179.9h-1.2"/>
<path class="mt" d="M444.25 165.42h.9M544.4 165.42h-.9M444.25 156.95h.9M544.4 156.95h-.9M444.25 150.94h.9M544.4 150.94h-.9M444.25 146.28h.9M544.4 146.28h-.9M444.25 142.47h.9M544.4 142.47h-.9M444.25 139.25h.9M544.4 139.25h-.9M444.25 136.46h.9M544.4 136.46h-.9M444.25 134h.9M544.4 134h-.9M444.25 199.04h.9M544.4 199.04h-.9M444.25 194.38h.9M544.4 194.38h-.9M444.25 190.57h.9M544.4 190.57h-.9M444.25 187.35h.9M544.4 187.35h-.9M444.25 184.56h.9M544.4 184.56h-.9M444.25 182.1h.9M544.4 182.1h-.9"/>
<text class="x" transform="translate(450.1 207.4) rotate(-90)">POA</text>
<text class="x" transform="translate(457.81 207.4) rotate(-90)">WSO</text>
<text class="x" transform="translate(465.51 207.4) rotate(-90)">AVOA</text>
<text class="x" transform="translate(473.21 207.4) rotate(-90)">RSA</text>
<text class="x" transform="translate(480.92 207.4) rotate(-90)">MPA</text>
<text class="x" transform="translate(488.62 207.4) rotate(-90)">TSA</text>
<text class="x" transform="translate(496.32 207.4) rotate(-90)">WOA</text>
<text class="x" transform="translate(504.03 207.4) rotate(-90)">MVO</text>
<text class="x" transform="translate(511.73 207.4) rotate(-90)">GWO</text>
<text class="x" transform="translate(519.44 207.4) rotate(-90)">TLBO</text>
<text class="x" transform="translate(527.14 207.4) rotate(-90)">GSA</text>
<text class="x" transform="translate(534.84 207.4) rotate(-90)">PSO</text>
<text class="x" transform="translate(542.55 207.4) rotate(-90)">GA</text>
<text class="y" x="442.85" y="134.8">10<tspan class="s" dy="-2.4">4</tspan></text>
<text class="y" x="442.85" y="182.9">10<tspan class="s" dy="-2.4">3</tspan></text>
</g>
<g>
<text class="t" x="72.42" y="240.1">C17-F10</text>
<text class="a" x="72.42" y="347.9">algorithm</text>
<text class="o" transform="translate(7.9 282.15) rotate(-90)">objective function</text>
<path class="ws" d="M27.96 300V298.7"/>
<path class="c" d="M26.86 298.7h2.2"/>
<path class="w" d="M27.96 307.5V313.5"/>
<path class="c" d="M26.86 313.5h2.2"/>
<rect class="b" x="26.11" y="300" width="3.7" height="7.5"/>
<path class="m" d="M26.41 300.7h3.1"/>
<path class="ws" d="M35.37 250.6V249.6"/>
<path class="c" d="M34.27 249.6h2.2"/>
<path class="ws" d="M35.37 254.8V256.6"/>
<path class="c" d="M34.27 256.6h2.2"/>
<rect class="b" x="33.52" y="250.6" width="3.7" height="4.2"/>
<path class="m" d="M33.82 252.3h3.1"/>
<path class="ws" d="M42.78 262V261.1"/>
<path class="c" d="M41.68 261.1h2.2"/>
<path class="ws" d="M42.78 269.4V271.9"/>
<path class="c" d="M41.68 271.9h2.2"/>
<rect class="b" x="40.93" y="262" width="3.7" height="7.4"/>
<path class="m" d="M41.23 265.4h3.1"/>
<path class="ws" d="M50.19 245.8V244.8"/>
<path class="c" d="M49.09 244.8h2.2"/>
<path class="ws" d="M50.19 251.6V254.1"/>
<path class="c" d="M49.09 254.1h2.2"/>
<rect class="b" x="48.34" y="245.8" width="3.7" height="5.8"/>
<path class="m" d="M48.64 247.8h3.1"/>
<path class="ws" d="M57.6 276.6V275.6"/>
<path class="c" d="M56.5 275.6h2.2"/>
<path class="c" d="M56.5 283.7h2.2"/>
<rect class="b" x="55.75" y="276.6" width="3.7" height="6.4"/>
<path class="m" d="M56.05 280h3.1"/>
<path class="w" d="M65.01 261.6V269"/>
<path class="c" d="M63.91 269h2.2"/>
<rect class="b" x="63.16" y="253.3" width="3.7" height="8.3"/>
<path class="m" d="M63.46 254h3.1"/>
<path class="ws" d="M72.42 252.6V249.6"/>
<path class="c" d="M71.33 249.6h2.2"/>
<path class="ws" d="M72.42 263.4V264.6"/>
<path class="c" d="M71.33 264.6h2.2"/>
<rect class="b" x="70.58" y="252.6" width="3.7" height="10.8"/>
<path class="m" d="M70.88 259h3.1"/>
<path class="ws" d="M79.84 270.4V269.1"/>
<path class="c" d="M78.74 269.1h2.2"/>
<path class="ws" d="M79.84 276V276.9"/>
<path class="c" d="M78.74 276.9h2.2"/>
<rect class="b" x="77.99" y="270.4" width="3.7" height="5.6"/>
<path class="m" d="M78.29 273h3.1"/>
<path class="ws" d="M87.25 269.6V268.9"/>
<path class="c" d="M86.15 268.9h2.2"/>
<path class="ws" d="M87.25 273.6V276.4"/>
<path class="c" d="M86.15 276.4h2.2"/>
<rect class="b" x="85.4" y="269.6" width="3.7" height="4"/>
<path class="m" d="M85.7 271.6h3.1"/>
<rect class="b" x="92.81" y="247.5" width="3.7" height="2"/>
<path class="m" d="M93.11 248.5h3.1"/>
<path class="ws" d="M102.07 268.9V267.4"/>
<path class="c" d="M100.97 267.4h2.2"/>
<path class="ws" d="M102.07 273.6V274.4"/>
<path class="c" d="M100.97 274.4h2.2"/>
<rect class="b" x="100.22" y="268.9" width="3.7" height="4.7"/>
<path class="m" d="M100.52 271.6h3.1"/>
<path class="ws" d="M109.48 266.9V264.6"/>
<path class="c" d="M108.38 264.6h2.2"/>
<rect class="b" x="107.63" y="266.9" width="3.7" height="4.5"/>
<path class="m" d="M107.93 269.6h3.1"/>
<path class="ws" d="M116.89 257V256"/>
<path class="c" d="M115.79 256h2.2"/>
<path class="ws" d="M116.89 263.4V264.1"/>
<path class="c" d="M115.79 264.1h2.2"/>
<rect class="b" x="115.04" y="257" width="3.7" height="6.4"/>
<path class="m" d="M115.34 259.6h3.1"/>
<rect class="ax" x="24.25" y="242.1" width="96.35" height="80.1"/>
<path class="tk" d="M27.96 322.2v-1.2M27.96 242.1v1.2M35.37 322.2v-1.2M35.37 242.1v1.2M42.78 322.2v-1.2M42.78 242.1v1.2M50.19 322.2v-1.2M50.19 242.1v1.2M57.6 322.2v-1.2M57.6 242.1v1.2M65.01 322.2v-1.2M65.01 242.1v1.2M72.42 322.2v-1.2M72.42 242.1v1.2M79.84 322.2v-1.2M79.84 242.1v1.2M87.25 322.2v-1.2M87.25 242.1v1.2M94.66 322.2v-1.2M94.66 242.1v1.2M102.07 322.2v-1.2M102.07 242.1v1.2M109.48 322.2v-1.2M109.48 242.1v1.2M116.89 322.2v-1.2M116.89 242.1v1.2M24.25 248.6h1.2M120.6 248.6h-1.2M24.25 256.3h1.2M120.6 256.3h-1.2M24.25 265.6h1.2M120.6 265.6h-1.2M24.25 276.6h1.2M120.6 276.6h-1.2M24.25 290.7h1.2M120.6 290.7h-1.2M24.25 310.3h1.2M120.6 310.3h-1.2"/>
<path class="md" d="M24.85 243.1V321.7M120 243.1V321.7"/>
<text class="x" transform="translate(29.96 324.4) rotate(-90)">POA</text>
<text class="x" transform="translate(37.37 324.4) rotate(-90)">WSO</text>
<text class="x" transform="translate(44.78 324.4) rotate(-90)">AVOA</text>
<text class="x" transform="translate(52.19 324.4) rotate(-90)">RSA</text>
<text class="x" transform="translate(59.6 324.4) rotate(-90)">MPA</text>
<text class="x" transform="translate(67.01 324.4) rotate(-90)">TSA</text>
<text class="x" transform="translate(74.42 324.4) rotate(-90)">WOA</text>
<text class="x" transform="translate(81.84 324.4) rotate(-90)">MVO</text>
<text class="x" transform="translate(89.25 324.4) rotate(-90)">GWO</text>
<text class="x" transform="translate(96.66 324.4) rotate(-90)">TLBO</text>
<text class="x" transform="translate(104.07 324.4) rotate(-90)">GSA</text>
<text class="x" transform="translate(111.48 324.4) rotate(-90)">PSO</text>
<text class="x" transform="translate(118.89 324.4) rotate(-90)">GA</text>
<text class="y" x="22.65" y="250.6">7000</text>
<text class="y" x="22.65" y="258.3">6000</text>
<text class="y" x="22.65" y="267.6">5000</text>
<text class="y" x="22.65" y="278.6">4000</text>
<text class="y" x="22.65" y="292.7">3000</text>
<text class="y" x="22.65" y="312.3">2000</text>
</g>
<g>
<text class="t" x="211.7" y="240.1">C17-F11</text>
<text class="a" x="211.7" y="347.9">algorithm</text>
<text class="o" transform="translate(149.7 282.15) rotate(-90)">objective function</text>
<path d="M163.11 322.2h4.5" stroke="#ff2a2a" stroke-width=".9"/>
<path class="ws" d="M173.08 264.9V263.9"/>
<path class="c" d="M171.98 263.9h2.2"/>
<path class="ws" d="M173.08 271.6V273.4"/>
<path class="c" d="M171.98 273.4h2.2"/>
<rect class="b" x="171.23" y="264.9" width="3.7" height="6.7"/>
<path class="m" d="M171.53 267.9h3.1"/>
<path class="c" d="M179.71 317.8h2.2"/>
<path class="c" d="M179.71 320.4h2.2"/>
<rect class="b" x="178.96" y="318.3" width="3.7" height="1.6"/>
<path class="m" d="M179.26 319.1h3.1"/>
<path class="ws" d="M188.53 260.3V259.1"/>
<path class="c" d="M187.43 259.1h2.2"/>
<path class="ws" d="M188.53 266.9V269.4"/>
<path class="c" d="M187.43 269.4h2.2"/>
<rect class="b" x="186.68" y="260.3" width="3.7" height="6.6"/>
<path class="m" d="M186.98 262.9h3.1"/>
<path d="M194 321.2h4.5" stroke="#5a0fb4" stroke-width="1.3"/>
<path class="w" d="M203.98 272.9V267.4"/>
<path class="c" d="M202.88 267.4h2.2"/>
<path class="ws" d="M203.98 288V289.2"/>
<path class="c" d="M202.88 289.2h2.2"/>
<rect class="b" x="202.13" y="272.9" width="3.7" height="15.1"/>
<path class="m" d="M202.43 283h3.1"/>
<path class="w" d="M211.7 261V255.3"/>
<path class="c" d="M210.6 255.3h2.2"/>
<path class="ws" d="M211.7 273.4V276.6"/>
<path class="c" d="M210.6 276.6h2.2"/>
<rect class="b" x="209.85" y="261" width="3.7" height="12.4"/>
<path class="m" d="M210.15 270.4h3.1"/>
<path d="M217.17 318h4.5" stroke="#5a0fb4" stroke-width="1.3"/>
<path class="w" d="M227.15 295.5V284.2"/>
<path class="c" d="M226.05 284.2h2.2"/>
<rect class="b" x="225.3" y="295.5" width="3.7" height="20.5"/>
<path class="m" d="M225.6 313.8h3.1"/>
<path class="w" d="M234.87 303V298"/>
<path class="c" d="M233.77 298h2.2"/>
<path class="ws" d="M234.87 311V312.3"/>
<path class="c" d="M233.77 312.3h2.2"/>
<rect class="b" x="233.02" y="303" width="3.7" height="8"/>
<path class="m" d="M233.32 308.8h3.1"/>
<path class="ws" d="M242.59 291.7V290.7"/>
<path class="c" d="M241.49 290.7h2.2"/>
<path class="ws" d="M242.59 301V302.2"/>
<path class="c" d="M241.49 302.2h2.2"/>
<rect class="b" x="240.74" y="291.7" width="3.7" height="9.3"/>
<path class="m" d="M241.04 296.2h3.1"/>
<path d="M248.07 319.3h4.5" stroke="#5a0fb4" stroke-width="1.3"/>
<path class="w" d="M258.04 251V243.5"/>
<path class="c" d="M256.94 243.5h2.2"/>
<path class="w" d="M258.04 280.4V292.2"/>
<path class="c" d="M256.94 292.2h2.2"/>
<rect class="b" x="256.19" y="251" width="3.7" height="29.4"/>
<path class="m" d="M256.49 266h3.1"/>
<rect class="ax" x="161.5" y="242.1" width="100.4" height="80.1"/>
<path class="tk" d="M165.36 322.2v-1.2M165.36 242.1v1.2M173.08 322.2v-1.2M173.08 242.1v1.2M180.81 322.2v-1.2M180.81 242.1v1.2M188.53 322.2v-1.2M188.53 242.1v1.2M196.25 322.2v-1.2M196.25 242.1v1.2M203.98 322.2v-1.2M203.98 242.1v1.2M211.7 322.2v-1.2M211.7 242.1v1.2M219.42 322.2v-1.2M219.42 242.1v1.2M227.15 322.2v-1.2M227.15 242.1v1.2M234.87 322.2v-1.2M234.87 242.1v1.2M242.59 322.2v-1.2M242.59 242.1v1.2M250.32 322.2v-1.2M250.32 242.1v1.2M258.04 322.2v-1.2M258.04 242.1v1.2M161.5 255.2h1.2M261.9 255.2h-1.2"/>
<path class="mt" d="M161.5 305.53h.9M261.9 305.53h-.9M161.5 292.85h.9M261.9 292.85h-.9M161.5 283.85h.9M261.9 283.85h-.9M161.5 276.87h.9M261.9 276.87h-.9M161.5 271.17h.9M261.9 271.17h-.9M161.5 266.35h.9M261.9 266.35h-.9M161.5 262.18h.9M261.9 262.18h-.9M161.5 258.49h.9M261.9 258.49h-.9"/>
<text class="x" transform="translate(167.36 324.4) rotate(-90)">POA</text>
<text class="x" transform="translate(175.08 324.4) rotate(-90)">WSO</text>
<text class="x" transform="translate(182.81 324.4) rotate(-90)">AVOA</text>
<text class="x" transform="translate(190.53 324.4) rotate(-90)">RSA</text>
<text class="x" transform="translate(198.25 324.4) rotate(-90)">MPA</text>
<text class="x" transform="translate(205.98 324.4) rotate(-90)">TSA</text>
<text class="x" transform="translate(213.7 324.4) rotate(-90)">WOA</text>
<text class="x" transform="translate(221.42 324.4) rotate(-90)">MVO</text>
<text class="x" transform="translate(229.15 324.4) rotate(-90)">GWO</text>
<text class="x" transform="translate(236.87 324.4) rotate(-90)">TLBO</text>
<text class="x" transform="translate(244.59 324.4) rotate(-90)">GSA</text>
<text class="x" transform="translate(252.32 324.4) rotate(-90)">PSO</text>
<text class="x" transform="translate(260.04 324.4) rotate(-90)">GA</text>
<text class="y" x="160.1" y="258.2">10<tspan class="s" dy="-2.4">4</tspan></text>
</g>
<g>
<text class="t" x="354.15" y="240.1">C17-F12</text>
<text class="a" x="354.15" y="347.9">algorithm</text>
<text class="o" transform="translate(290.5 282.15) rotate(-90)">objective function</text>
<path d="M306.81 322.2h4.5" stroke="#ff2a2a" stroke-width=".9"/>
<path class="c" d="M315.47 244.2h2.2"/>
<path class="c" d="M315.47 246.8h2.2"/>
<rect class="b" x="314.72" y="244.7" width="3.7" height="1.6"/>
<path class="m" d="M315.02 245.5h3.1"/>
<path class="ws" d="M324.09 272.9V271.6"/>
<path class="c" d="M322.99 271.6h2.2"/>
<path class="w" d="M324.09 281V285"/>
<path class="c" d="M322.99 285h2.2"/>
<rect class="b" x="322.24" y="272.9" width="3.7" height="8.1"/>
<path class="m" d="M322.54 277.4h3.1"/>
<path class="c" d="M330.5 242h2.2"/>
<path class="c" d="M330.5 244.6h2.2"/>
<rect class="b" x="329.75" y="242.5" width="3.7" height="1.6"/>
<path class="m" d="M330.05 243.3h3.1"/>
<path class="c" d="M338.02 309.2h2.2"/>
<path class="c" d="M338.02 311.8h2.2"/>
<rect class="b" x="337.27" y="309.7" width="3.7" height="1.6"/>
<path class="m" d="M337.57 310.5h3.1"/>
<path class="ws" d="M346.63 248.6V250.8"/>
<path class="c" d="M345.53 250.8h2.2"/>
<rect class="b" x="344.78" y="245.8" width="3.7" height="2.8"/>
<path class="m" d="M345.08 246.8h3.1"/>
<path class="ws" d="M354.15 259.8V259"/>
<path class="c" d="M353.05 259h2.2"/>
<path class="ws" d="M354.15 267.9V269.1"/>
<path class="c" d="M353.05 269.1h2.2"/>
<rect class="b" x="352.3" y="259.8" width="3.7" height="8.1"/>
<path class="m" d="M352.6 263.4h3.1"/>
<path class="ws" d="M361.67 276.6V274"/>
<path class="c" d="M360.57 274h2.2"/>
<rect class="b" x="359.82" y="276.6" width="3.7" height="5.6"/>
<path class="m" d="M360.12 281.2h3.1"/>
<path class="ws" d="M369.18 269V267.4"/>
<path class="c" d="M368.08 267.4h2.2"/>
<path class="w" d="M369.18 276.6V282.2"/>
<path class="c" d="M368.08 282.2h2.2"/>
<rect class="b" x="367.33" y="269" width="3.7" height="7.6"/>
<path class="m" d="M367.63 271.6h3.1"/>
<path class="ws" d="M376.7 260.3V259"/>
<path class="c" d="M375.6 259h2.2"/>
<rect class="b" x="374.85" y="260.3" width="3.7" height="3.3"/>
<path class="m" d="M375.15 261.6h3.1"/>
<path class="ws" d="M384.21 261V257.8"/>
<path class="c" d="M383.11 257.8h2.2"/>
<path class="ws" d="M384.21 270.9V271.6"/>
<path class="c" d="M383.11 271.6h2.2"/>
<rect class="b" x="382.36" y="261" width="3.7" height="9.9"/>
<path class="m" d="M382.66 269.9h3.1"/>
<path class="ws" d="M391.73 284.2V283.2"/>
<path class="c" d="M390.63 283.2h2.2"/>
<path class="w" d="M391.73 291V296.7"/>
<path class="c" d="M390.63 296.7h2.2"/>
<rect class="b" x="389.88" y="284.2" width="3.7" height="6.8"/>
<path class="m" d="M390.18 287.2h3.1"/>
<path class="c" d="M398.14 279.4h2.2"/>
<path class="c" d="M398.14 282h2.2"/>
<rect class="b" x="397.39" y="279.9" width="3.7" height="1.6"/>
<path class="m" d="M397.69 280.7h3.1"/>
<rect class="ax" x="305.3" y="242.1" width="97.7" height="80.1"/>
<path class="tk" d="M309.06 322.2v-1.2M309.06 242.1v1.2M316.57 322.2v-1.2M316.57 242.1v1.2M324.09 322.2v-1.2M324.09 242.1v1.2M331.6 322.2v-1.2M331.6 242.1v1.2M339.12 322.2v-1.2M339.12 242.1v1.2M346.63 322.2v-1.2M346.63 242.1v1.2M354.15 322.2v-1.2M354.15 242.1v1.2M361.67 322.2v-1.2M361.67 242.1v1.2M369.18 322.2v-1.2M369.18 242.1v1.2M376.7 322.2v-1.2M376.7 242.1v1.2M384.21 322.2v-1.2M384.21 242.1v1.2M391.73 322.2v-1.2M391.73 242.1v1.2M399.24 322.2v-1.2M399.24 242.1v1.2M305.3 243.2h1.2M403 243.2h-1.2M305.3 301h1.2M403 301h-1.2"/>
<path class="mt" d="M305.3 251.28h.9M403 251.28h-.9M305.3 249.24h.9M403 249.24h-.9M305.3 247.8h.9M403 247.8h-.9M305.3 246.68h.9M403 246.68h-.9M305.3 245.76h.9M403 245.76h-.9M305.3 244.99h.9M403 244.99h-.9M305.3 244.32h.9M403 244.32h-.9M305.3 243.73h.9M403 243.73h-.9M305.3 262.84h.9M403 262.84h-.9M305.3 260.8h.9M403 260.8h-.9M305.3 259.36h.9M403 259.36h-.9M305.3 258.24h.9M403 258.24h-.9M305.3 257.32h.9M403 257.32h-.9M305.3 256.55h.9M403 256.55h-.9M305.3 255.88h.9M403 255.88h-.9M305.3 255.29h.9M403 255.29h-.9M305.3 274.4h.9M403 274.4h-.9M305.3 272.36h.9M403 272.36h-.9M305.3 270.92h.9M403 270.92h-.9M305.3 269.8h.9M403 269.8h-.9M305.3 268.88h.9M403 268.88h-.9M305.3 268.11h.9M403 268.11h-.9M305.3 267.44h.9M403 267.44h-.9M305.3 266.85h.9M403 266.85h-.9M305.3 285.96h.9M403 285.96h-.9M305.3 283.92h.9M403 283.92h-.9M305.3 282.48h.9M403 282.48h-.9M305.3 281.36h.9M403 281.36h-.9M305.3 280.44h.9M403 280.44h-.9M305.3 279.67h.9M403 279.67h-.9M305.3 279h.9M403 279h-.9M305.3 278.41h.9M403 278.41h-.9M305.3 297.52h.9M403 297.52h-.9M305.3 295.48h.9M403 295.48h-.9M305.3 294.04h.9M403 294.04h-.9M305.3 292.92h.9M403 292.92h-.9M305.3 292h.9M403 292h-.9M305.3 291.23h.9M403 291.23h-.9M305.3 290.56h.9M403 290.56h-.9M305.3 289.97h.9M403 289.97h-.9M305.3 309.08h.9M403 309.08h-.9M305.3 307.04h.9M403 307.04h-.9M305.3 305.6h.9M403 305.6h-.9M305.3 304.48h.9M403 304.48h-.9M305.3 303.56h.9M403 303.56h-.9M305.3 302.79h.9M403 302.79h-.9M305.3 302.12h.9M403 302.12h-.9M305.3 301.53h.9M403 301.53h-.9M305.3 320.64h.9M403 320.64h-.9M305.3 318.6h.9M403 318.6h-.9M305.3 317.16h.9M403 317.16h-.9M305.3 316.04h.9M403 316.04h-.9M305.3 315.12h.9M403 315.12h-.9M305.3 314.35h.9M403 314.35h-.9M305.3 313.68h.9M403 313.68h-.9M305.3 313.09h.9M403 313.09h-.9"/>
<text class="x" transform="translate(311.06 324.4) rotate(-90)">POA</text>
<text class="x" transform="translate(318.57 324.4) rotate(-90)">WSO</text>
<text class="x" transform="translate(326.09 324.4) rotate(-90)">AVOA</text>
<text class="x" transform="translate(333.6 324.4) rotate(-90)">RSA</text>
<text class="x" transform="translate(341.12 324.4) rotate(-90)">MPA</text>
<text class="x" transform="translate(348.63 324.4) rotate(-90)">TSA</text>
<text class="x" transform="translate(356.15 324.4) rotate(-90)">WOA</text>
<text class="x" transform="translate(363.67 324.4) rotate(-90)">MVO</text>
<text class="x" transform="translate(371.18 324.4) rotate(-90)">GWO</text>
<text class="x" transform="translate(378.7 324.4) rotate(-90)">TLBO</text>
<text class="x" transform="translate(386.21 324.4) rotate(-90)">GSA</text>
<text class="x" transform="translate(393.73 324.4) rotate(-90)">PSO</text>
<text class="x" transform="translate(401.24 324.4) rotate(-90)">GA</text>
<text class="y" x="303.9" y="246.2">10<tspan class="s" dy="-2.4">10</tspan></text>
<text class="y" x="303.9" y="304">10<tspan class="s" dy="-2.4">5</tspan></text>
</g>
<g>
<text class="t" x="495.48" y="240.1">C17-F13</text>
<text class="a" x="495.48" y="347.9">algorithm</text>
<text class="o" transform="translate(432.4 282.15) rotate(-90)">objective function</text>
<path d="M448.06 322.2h4.5" stroke="#ff2a2a" stroke-width=".9"/>
<path class="ws" d="M457.84 248.6V250.8"/>
<path class="c" d="M456.74 250.8h2.2"/>
<rect class="b" x="455.99" y="245.8" width="3.7" height="2.8"/>
<path class="m" d="M456.29 247h3.1"/>
<path class="c" d="M464.27 298.8h2.2"/>
<path class="c" d="M464.27 301.4h2.2"/>
<rect class="b" x="463.52" y="299.3" width="3.7" height="1.6"/>
<path class="m" d="M463.82 300.1h3.1"/>
<path class="ws" d="M472.89 245.3V247"/>
<path class="c" d="M471.79 247h2.2"/>
<rect class="b" x="471.04" y="243" width="3.7" height="2.3"/>
<path class="m" d="M471.34 244h3.1"/>
<path class="c" d="M479.32 320.5h2.2"/>
<path class="c" d="M479.32 323.1h2.2"/>
<rect class="b" x="478.57" y="321" width="3.7" height="1.6"/>
<path class="m" d="M478.87 321.8h3.1"/>
<path class="ws" d="M487.95 250.8V247.8"/>
<path class="c" d="M486.85 247.8h2.2"/>
<path class="ws" d="M487.95 272V275"/>
<path class="c" d="M486.85 275h2.2"/>
<rect class="b" x="486.1" y="250.8" width="3.7" height="21.2"/>
<path class="m" d="M486.4 260h3.1"/>
<path class="ws" d="M495.48 288.7V287.9"/>
<path class="c" d="M494.38 287.9h2.2"/>
<rect class="b" x="493.62" y="288.7" width="3.7" height="5.5"/>
<path class="m" d="M493.93 291.2h3.1"/>
<path class="ws" d="M503 300V298.7"/>
<path class="c" d="M501.9 298.7h2.2"/>
<rect class="b" x="501.15" y="300" width="3.7" height="6.3"/>
<path class="m" d="M501.45 301.7h3.1"/>
<path class="ws" d="M510.53 288.4V286.2"/>
<path class="c" d="M509.43 286.2h2.2"/>
<rect class="b" x="508.68" y="288.4" width="3.7" height="13.3"/>
<path class="m" d="M508.98 296.2h3.1"/>
<path class="c" d="M516.96 266.6h2.2"/>
<path class="c" d="M516.96 269.2h2.2"/>
<rect class="b" x="516.21" y="267.1" width="3.7" height="1.6"/>
<path class="m" d="M516.51 267.9h3.1"/>
<path class="c" d="M524.48 305.5h2.2"/>
<path class="c" d="M524.48 308.1h2.2"/>
<rect class="b" x="523.73" y="306" width="3.7" height="1.6"/>
<path class="m" d="M524.03 306.8h3.1"/>
<path class="ws" d="M533.11 305.5V303.7"/>
<path class="c" d="M532.01 303.7h2.2"/>
<rect class="b" x="531.26" y="305.5" width="3.7" height="5.8"/>
<path class="m" d="M531.56 308.5h3.1"/>
<path class="ws" d="M540.64 275.9V274.1"/>
<path class="c" d="M539.54 274.1h2.2"/>
<path class="ws" d="M540.64 281.2V284.2"/>
<path class="c" d="M539.54 284.2h2.2"/>
<rect class="b" x="538.79" y="275.9" width="3.7" height="5.3"/>
<path class="m" d="M539.09 278.7h3.1"/>
<rect class="ax" x="446.55" y="242.1" width="97.85" height="80.1"/>
<path class="tk" d="M450.31 322.2v-1.2M450.31 242.1v1.2M457.84 322.2v-1.2M457.84 242.1v1.2M465.37 322.2v-1.2M465.37 242.1v1.2M472.89 322.2v-1.2M472.89 242.1v1.2M480.42 322.2v-1.2M480.42 242.1v1.2M487.95 322.2v-1.2M487.95 242.1v1.2M495.48 322.2v-1.2M495.48 242.1v1.2M503 322.2v-1.2M503 242.1v1.2M510.53 322.2v-1.2M510.53 242.1v1.2M518.06 322.2v-1.2M518.06 242.1v1.2M525.58 322.2v-1.2M525.58 242.1v1.2M533.11 322.2v-1.2M533.11 242.1v1.2M540.64 322.2v-1.2M540.64 242.1v1.2M446.55 243.7h1.2M544.4 243.7h-1.2M446.55 300.5h1.2M544.4 300.5h-1.2"/>
<path class="mt" d="M446.55 251.64h.9M544.4 251.64h-.9M446.55 249.64h.9M544.4 249.64h-.9M446.55 248.22h.9M544.4 248.22h-.9M446.55 247.12h.9M544.4 247.12h-.9M446.55 246.22h.9M544.4 246.22h-.9M446.55 245.46h.9M544.4 245.46h-.9M446.55 244.8h.9M544.4 244.8h-.9M446.55 244.22h.9M544.4 244.22h-.9M446.55 263h.9M544.4 263h-.9M446.55 261h.9M544.4 261h-.9M446.55 259.58h.9M544.4 259.58h-.9M446.55 258.48h.9M544.4 258.48h-.9M446.55 257.58h.9M544.4 257.58h-.9M446.55 256.82h.9M544.4 256.82h-.9M446.55 256.16h.9M544.4 256.16h-.9M446.55 255.58h.9M544.4 255.58h-.9M446.55 274.36h.9M544.4 274.36h-.9M446.55 272.36h.9M544.4 272.36h-.9M446.55 270.94h.9M544.4 270.94h-.9M446.55 269.84h.9M544.4 269.84h-.9M446.55 268.94h.9M544.4 268.94h-.9M446.55 268.18h.9M544.4 268.18h-.9M446.55 267.52h.9M544.4 267.52h-.9M446.55 266.94h.9M544.4 266.94h-.9M446.55 285.72h.9M544.4 285.72h-.9M446.55 283.72h.9M544.4 283.72h-.9M446.55 282.3h.9M544.4 282.3h-.9M446.55 281.2h.9M544.4 281.2h-.9M446.55 280.3h.9M544.4 280.3h-.9M446.55 279.54h.9M544.4 279.54h-.9M446.55 278.88h.9M544.4 278.88h-.9M446.55 278.3h.9M544.4 278.3h-.9M446.55 297.08h.9M544.4 297.08h-.9M446.55 295.08h.9M544.4 295.08h-.9M446.55 293.66h.9M544.4 293.66h-.9M446.55 292.56h.9M544.4 292.56h-.9M446.55 291.66h.9M544.4 291.66h-.9M446.55 290.9h.9M544.4 290.9h-.9M446.55 290.24h.9M544.4 290.24h-.9M446.55 289.66h.9M544.4 289.66h-.9M446.55 308.44h.9M544.4 308.44h-.9M446.55 306.44h.9M544.4 306.44h-.9M446.55 305.02h.9M544.4 305.02h-.9M446.55 303.92h.9M544.4 303.92h-.9M446.55 303.02h.9M544.4 303.02h-.9M446.55 302.26h.9M544.4 302.26h-.9M446.55 301.6h.9M544.4 301.6h-.9M446.55 301.02h.9M544.4 301.02h-.9M446.55 319.8h.9M544.4 319.8h-.9M446.55 317.8h.9M544.4 317.8h-.9M446.55 316.38h.9M544.4 316.38h-.9M446.55 315.28h.9M544.4 315.28h-.9M446.55 314.38h.9M544.4 314.38h-.9M446.55 313.62h.9M544.4 313.62h-.9M446.55 312.96h.9M544.4 312.96h-.9M446.55 312.38h.9M544.4 312.38h-.9"/>
<text class="x" transform="translate(452.31 324.4) rotate(-90)">POA</text>
<text class="x" transform="translate(459.84 324.4) rotate(-90)">WSO</text>
<text class="x" transform="translate(467.37 324.4) rotate(-90)">AVOA</text>
<text class="x" transform="translate(474.89 324.4) rotate(-90)">RSA</text>
<text class="x" transform="translate(482.42 324.4) rotate(-90)">MPA</text>
<text class="x" transform="translate(489.95 324.4) rotate(-90)">TSA</text>
<text class="x" transform="translate(497.48 324.4) rotate(-90)">WOA</text>
<text class="x" transform="translate(505 324.4) rotate(-90)">MVO</text>
<text class="x" transform="translate(512.53 324.4) rotate(-90)">GWO</text>
<text class="x" transform="translate(520.06 324.4) rotate(-90)">TLBO</text>
<text class="x" transform="translate(527.58 324.4) rotate(-90)">GSA</text>
<text class="x" transform="translate(535.11 324.4) rotate(-90)">PSO</text>
<text class="x" transform="translate(542.64 324.4) rotate(-90)">GA</text>
<text class="y" x="445.15" y="246.7">10<tspan class="s" dy="-2.4">10</tspan></text>
<text class="y" x="445.15" y="303.5">10<tspan class="s" dy="-2.4">5</tspan></text>
</g>
</g></svg></body></html>
